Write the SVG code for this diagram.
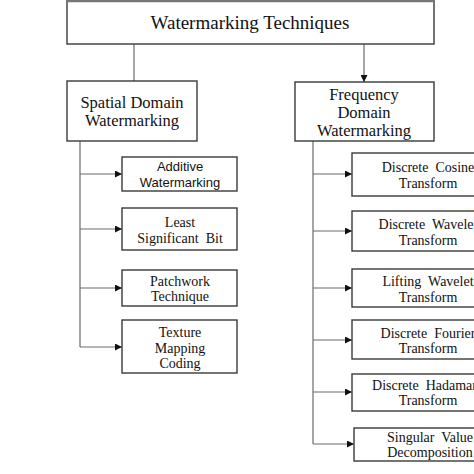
<svg xmlns="http://www.w3.org/2000/svg" width="474" height="474" viewBox="0 0 474 474">
<defs>
<style>
.box{fill:#fff;stroke:#3a3a3a;stroke-width:1.4}
.ln{fill:none;stroke:#6a6a6a;stroke-width:1.2}
.t{font-family:"Liberation Serif","Times New Roman",serif;fill:#111;text-anchor:middle}
.s{font-family:"Liberation Sans",Arial,sans-serif;fill:#111;text-anchor:middle;font-size:13px}
.r{font-size:14px;word-spacing:3.5px}
.l{font-size:14px}
</style>
<marker id="ah" viewBox="0 0 8 8" refX="8" refY="4" markerWidth="7" markerHeight="7" markerUnits="userSpaceOnUse" orient="auto">
<path d="M0,0 L8,4 L0,8 z" fill="#111"/>
</marker>
</defs>
<rect width="474" height="474" fill="#fff"/>
<g id="connectors">
<line class="ln" x1="134" y1="44" x2="134" y2="81"/>
<line class="ln" x1="364" y1="44" x2="364" y2="82" marker-end="url(#ah)"/>
<path class="ln" d="M80,141 V347"/>
<line class="ln" x1="80" y1="174" x2="122" y2="174" marker-end="url(#ah)"/>
<line class="ln" x1="80" y1="229" x2="122" y2="229" marker-end="url(#ah)"/>
<line class="ln" x1="80" y1="288" x2="122" y2="288" marker-end="url(#ah)"/>
<line class="ln" x1="80" y1="347" x2="122" y2="347" marker-end="url(#ah)"/>
<path class="ln" d="M313,141 V444"/>
<line class="ln" x1="313" y1="174" x2="352" y2="174" marker-end="url(#ah)"/>
<line class="ln" x1="313" y1="231" x2="352" y2="231" marker-end="url(#ah)"/>
<line class="ln" x1="313" y1="288" x2="352" y2="288" marker-end="url(#ah)"/>
<line class="ln" x1="313" y1="340" x2="352" y2="340" marker-end="url(#ah)"/>
<line class="ln" x1="313" y1="392" x2="352" y2="392" marker-end="url(#ah)"/>
<line class="ln" x1="313" y1="444" x2="354" y2="444" marker-end="url(#ah)"/>
</g>
<g id="root">
<rect class="box" x="67" y="1" width="367" height="43"/>
<line x1="66" y1="1" x2="435" y2="1" stroke="#777" stroke-width="2.5"/>
<text class="t" x="250" y="29" font-size="19">Watermarking Techniques</text>
</g>
<g id="spatial">
<rect class="box" x="67" y="81" width="130" height="60"/>
<text class="t" x="132" y="108" font-size="16.5">Spatial Domain</text>
<text class="t" x="132" y="126" font-size="16.5">Watermarking</text>
</g>
<g id="frequency">
<rect class="box" x="295" y="82" width="139" height="59"/>
<text class="t" x="364" y="100" font-size="16.5">Frequency</text>
<text class="t" x="364" y="118" font-size="16.5">Domain</text>
<text class="t" x="364" y="136" font-size="16.5">Watermarking</text>
</g>
<g id="additive">
<rect class="box" x="122" y="157" width="115" height="34"/>
<text class="s" x="180" y="171">Additive</text>
<text class="s" x="180" y="187">Watermarking</text>
</g>
<g id="lsb">
<rect class="box" x="122" y="208" width="115" height="42"/>
<text class="t l" x="180" y="227">Least</text>
<text class="t l" x="180" y="243" xml:space="preserve">Significant  Bit</text>
</g>
<g id="patchwork">
<rect class="box" x="122" y="270" width="115" height="36"/>
<text class="t l" x="180" y="286">Patchwork</text>
<text class="t l" x="180" y="301">Technique</text>
</g>
<g id="texture">
<rect class="box" x="122" y="320" width="115" height="53"/>
<text class="t l" x="180" y="337">Texture</text>
<text class="t l" x="180" y="353">Mapping</text>
<text class="t l" x="180" y="368">Coding</text>
</g>
<g id="dct">
<rect class="box" x="352" y="153" width="160" height="43"/>
<text class="t r" x="428" y="172">Discrete Cosine</text>
<text class="t r" x="428" y="188">Transform</text>
</g>
<g id="dwt">
<rect class="box" x="352" y="211" width="160" height="40"/>
<text class="t r" x="428" y="229">Discrete Wavelet</text>
<text class="t r" x="428" y="245">Transform</text>
</g>
<g id="lwt">
<rect class="box" x="352" y="269" width="160" height="38"/>
<text class="t r" x="428" y="286">Lifting Wavelet</text>
<text class="t r" x="428" y="302">Transform</text>
</g>
<g id="dft">
<rect class="box" x="352" y="320" width="160" height="39"/>
<text class="t r" x="428" y="338">Discrete Fourier</text>
<text class="t r" x="428" y="353">Transform</text>
</g>
<g id="dht">
<rect class="box" x="352" y="374" width="160" height="37"/>
<text class="t r" x="428" y="390">Discrete Hadamard</text>
<text class="t r" x="428" y="405">Transform</text>
</g>
<g id="svd">
<rect class="box" x="354" y="428" width="160" height="33"/>
<text class="t r" x="430" y="442">Singular Value</text>
<text class="t r" x="430" y="457">Decomposition</text>
</g>
</svg>
